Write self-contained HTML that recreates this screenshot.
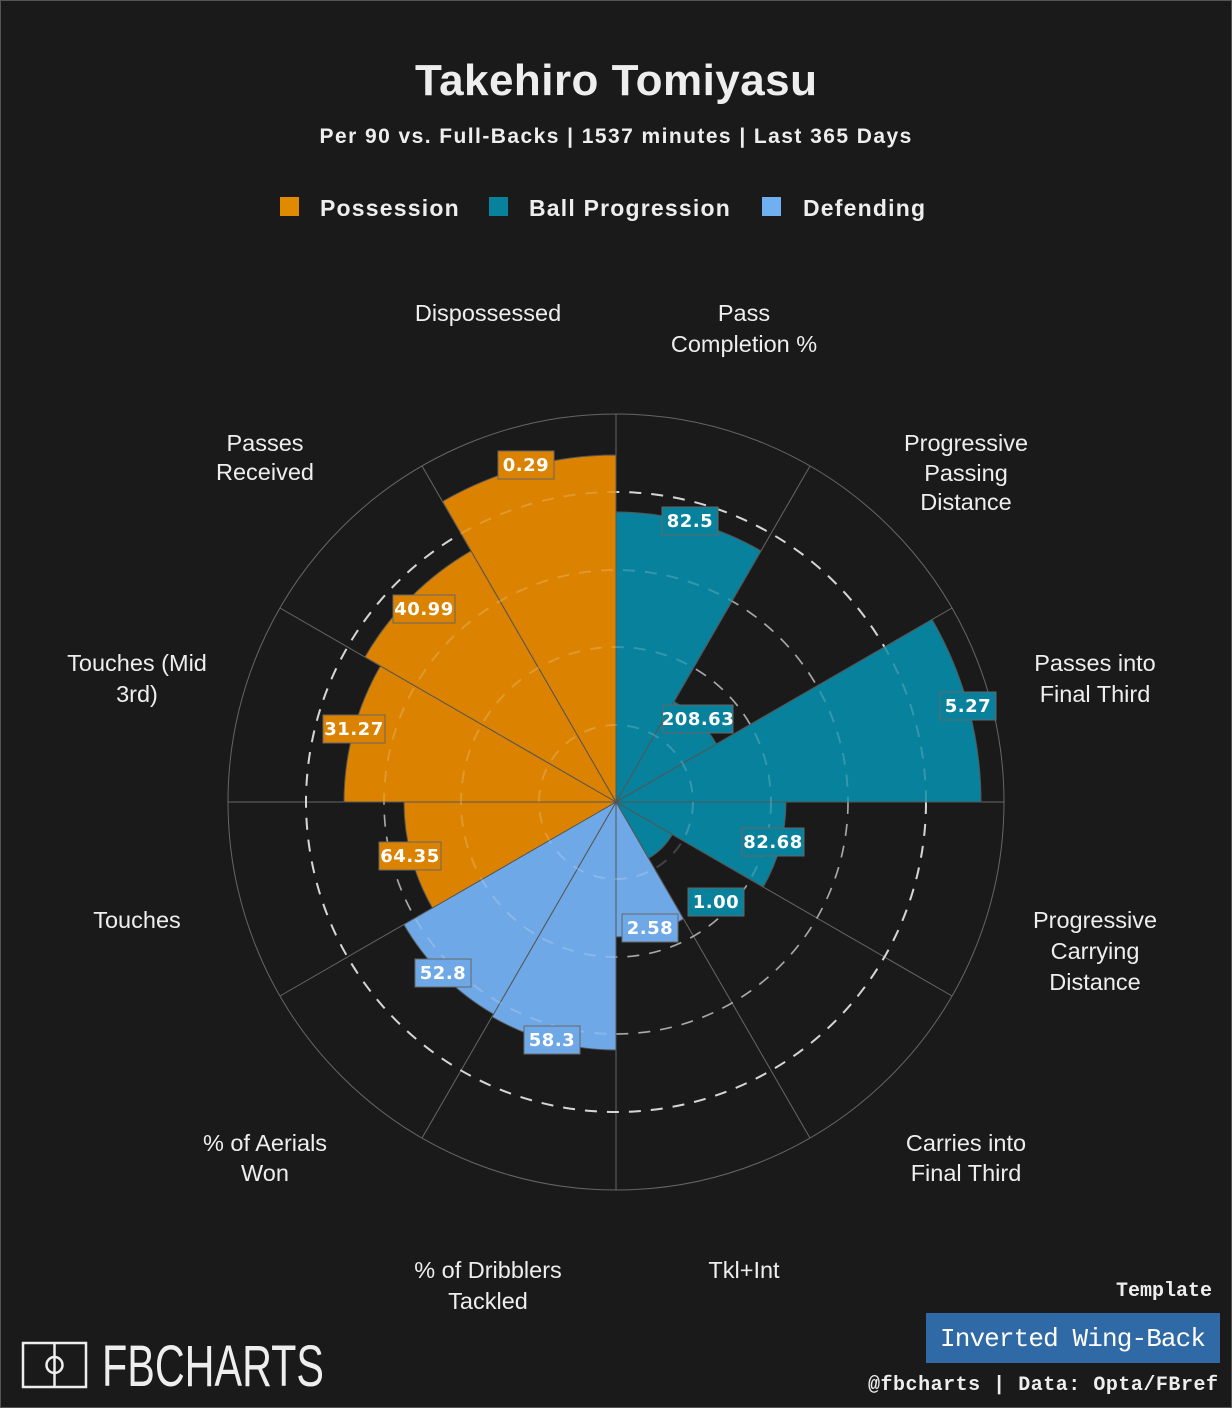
<!DOCTYPE html>
<html><head><meta charset="utf-8"><style>
html,body{margin:0;padding:0;background:#1a1a1a;}
svg{display:block;}
</style></head><body>
<svg width="1232" height="1408" viewBox="0 0 1232 1408" xmlns="http://www.w3.org/2000/svg" font-family="Liberation Sans, sans-serif">
<rect x="0.5" y="0.5" width="1231" height="1407" fill="#1a1a1a" stroke="#555" stroke-width="1"/>
<text x="616" y="95" text-anchor="middle" fill="#eee" font-size="44" font-weight="bold" textLength="402">Takehiro Tomiyasu</text>
<text x="616" y="143" text-anchor="middle" fill="#eee" font-size="21" font-weight="bold" letter-spacing="1.2" textLength="593">Per 90 vs. Full-Backs | 1537 minutes | Last 365 Days</text>
<g font-size="23" font-weight="bold" fill="#eee" letter-spacing="1.2">
<rect x="280" y="197" width="19" height="19" fill="#e08a00"/><text x="320" y="216">Possession</text>
<rect x="489" y="197" width="19" height="19" fill="#07819c"/><text x="529" y="216">Ball Progression</text>
<rect x="762" y="197" width="19" height="19" fill="#6fb0f0"/><text x="803" y="216">Defending</text>
</g>
<g stroke="#666" stroke-width="1" fill="none">
<circle cx="616" cy="802" r="388"/>
<line x1="616" y1="414" x2="616" y2="1190"/><line x1="228" y1="802" x2="1004" y2="802"/>
<line x1="422" y1="466" x2="810" y2="1138"/><line x1="810" y1="466" x2="422" y2="1138"/>
<line x1="280" y1="608" x2="952" y2="996"/><line x1="952" y1="608" x2="280" y2="996"/>
</g>
<g stroke="#ccc" stroke-width="2" fill="none" stroke-dasharray="12 10">
<circle cx="616" cy="802" r="310"/>
<circle cx="616" cy="802" r="232" stroke="#999" stroke-width="1.5"/>
<circle cx="616" cy="802" r="155" stroke="#999" stroke-width="1.5"/>
</g>
<g stroke="#555" stroke-width="1">
<path d="M616 802 L616 512 A290 290 0 0 1 761 550.9Z" fill="#07819c"/>
<path d="M616 802 L674 701.5 A116 116 0 0 1 716.5 744Z" fill="#07819c"/>
<path d="M616 802 L932.1 619.5 A365 365 0 0 1 981 802Z" fill="#07819c"/>
<path d="M616 802 L786 802 A170 170 0 0 1 763.2 887Z" fill="#07819c"/>
<path d="M616 802 L672.3 834.5 A65 65 0 0 1 648.5 858.3Z" fill="#07819c"/>
<path d="M616 802 L683.5 918.9 A135 135 0 0 1 616 937Z" fill="#6fa8e6"/>
<path d="M616 802 L616 1050 A248 248 0 0 1 492 1016.8Z" fill="#6fa8e6"/>
<path d="M616 802 L493.5 1014.2 A245 245 0 0 1 403.8 924.5Z" fill="#6fa8e6"/>
<path d="M616 802 L432.4 908 A212 212 0 0 1 404 802Z" fill="#db8200"/>
<path d="M616 802 L344 802 A272 272 0 0 1 380.4 666Z" fill="#db8200"/>
<path d="M616 802 L364.9 657 A290 290 0 0 1 471 550.9Z" fill="#db8200"/>
<path d="M616 802 L442.5 501.5 A347 347 0 0 1 616 455Z" fill="#db8200"/>
</g>
<g stroke="rgba(255,255,255,0.18)" stroke-width="2" fill="none" stroke-dasharray="12 10">
<circle cx="616" cy="802" r="232"/><circle cx="616" cy="802" r="155"/><circle cx="616" cy="802" r="77"/>
<circle cx="616" cy="802" r="310"/>
</g>
<g font-size="18" font-weight="bold" fill="#fff" text-anchor="middle" font-family="DejaVu Sans, sans-serif" stroke-width="1" letter-spacing="0.5">
<rect x="498" y="451" width="56" height="28" fill="#db8200" stroke="#666"/><text x="526" y="471">0.29</text>
<rect x="662" y="507" width="56" height="28" fill="#07819c" stroke="#666"/><text x="690" y="527">82.5</text>
<rect x="663" y="705" width="70" height="28" fill="#07819c" stroke="#666"/><text x="698" y="725">208.63</text>
<rect x="940" y="692" width="56" height="28" fill="#07819c" stroke="#666"/><text x="968" y="712">5.27</text>
<rect x="742" y="828" width="62" height="28" fill="#07819c" stroke="#666"/><text x="773" y="848">82.68</text>
<rect x="688" y="888" width="56" height="28" fill="#07819c" stroke="#666"/><text x="716" y="908">1.00</text>
<rect x="622" y="914" width="56" height="28" fill="#6fa8e6" stroke="#666"/><text x="650" y="934">2.58</text>
<rect x="524" y="1026" width="56" height="28" fill="#6fa8e6" stroke="#666"/><text x="552" y="1046">58.3</text>
<rect x="415" y="959" width="56" height="28" fill="#6fa8e6" stroke="#666"/><text x="443" y="979">52.8</text>
<rect x="379" y="842" width="62" height="28" fill="#db8200" stroke="#666"/><text x="410" y="862">64.35</text>
<rect x="323" y="715" width="62" height="28" fill="#db8200" stroke="#666"/><text x="354" y="735">31.27</text>
<rect x="393" y="595" width="62" height="28" fill="#db8200" stroke="#666"/><text x="424" y="615">40.99</text>
</g>
<g font-size="23.5" fill="#eee" text-anchor="middle">
<text x="488" y="321">Dispossessed</text>
<text x="744" y="321">Pass</text><text x="744" y="352">Completion %</text>
<text x="966" y="451">Progressive</text><text x="966" y="481">Passing</text><text x="966" y="510">Distance</text>
<text x="1095" y="671">Passes into</text><text x="1095" y="702">Final Third</text>
<text x="1095" y="928">Progressive</text><text x="1095" y="959">Carrying</text><text x="1095" y="990">Distance</text>
<text x="966" y="1151">Carries into</text><text x="966" y="1181">Final Third</text>
<text x="744" y="1278">Tkl+Int</text>
<text x="488" y="1278">% of Dribblers</text><text x="488" y="1309">Tackled</text>
<text x="265" y="1151">% of Aerials</text><text x="265" y="1181">Won</text>
<text x="137" y="928">Touches</text>
<text x="137" y="671">Touches (Mid</text><text x="137" y="702">3rd)</text>
<text x="265" y="451">Passes</text><text x="265" y="480">Received</text>
</g>
<text x="1212" y="1296" text-anchor="end" fill="#eee" font-size="20" font-family="Liberation Mono, monospace" font-weight="bold">Template</text>
<rect x="926" y="1313" width="294" height="50" fill="#2f6aa6"/>
<text x="1073" y="1346" text-anchor="middle" fill="#fff" font-size="26" font-family="Liberation Mono, monospace" textLength="266">Inverted Wing-Back</text>
<text x="1218" y="1390" text-anchor="end" fill="#eee" font-size="20" font-family="Liberation Mono, monospace" font-weight="bold" textLength="350">@fbcharts | Data: Opta/FBref</text>
<g stroke="#eee" stroke-width="2.5" fill="none">
<rect x="23" y="1343" width="63" height="44"/><line x1="54.5" y1="1343" x2="54.5" y2="1387"/><circle cx="54.5" cy="1365" r="8"/>
</g>
<text x="102" y="1386" fill="#eee" font-size="58" font-family="Liberation Sans Narrow, Liberation Sans, sans-serif" textLength="222" lengthAdjust="spacingAndGlyphs">FBCHARTS</text>
</svg>
</body></html>
